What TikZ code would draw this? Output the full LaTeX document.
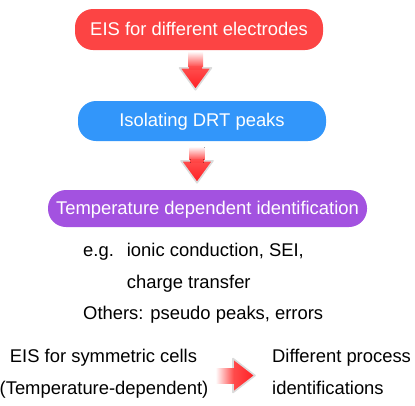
\documentclass[tikz,border=0pt]{standalone}
\usepackage{fontspec}
\setmainfont{Liberation Sans}
\usetikzlibrary{calc}
\definecolor{boxred}{RGB}{252,68,68}
\definecolor{boxblue}{RGB}{50,150,250}
\definecolor{boxpurple}{RGB}{163,82,224}
\definecolor{arrred}{RGB}{255,30,35}
\tikzset{
  stage/.style={rounded corners=18pt, minimum height=40pt, text=white,
    font=\fontsize{18.4}{18.4}\selectfont, text height=13pt, text depth=2pt, inner sep=0pt},
  plain/.style={font=\fontsize{18.4}{18.4}\selectfont, inner sep=0pt, anchor=base west},
  plainc/.style={font=\fontsize{18.4}{18.4}\selectfont, inner sep=0pt, anchor=base},
  headout/.style={draw=black!14, line width=1.6pt, line join=round},
}
\newcommand\downblock[2]{%
  \fill[top color=red!4, bottom color=red!75]
    let \p1=(#1), \p2=(#2) in ({\x1-7.5pt},\y1) rectangle ({\x1+7.5pt},{\y2+22pt});
  \filldraw[headout, top color=red!70, bottom color=arrred]
    let \p1=(#1), \p2=(#2) in ({\x1-16pt},{\y2+22pt}) -- ({\x1+16pt},{\y2+22pt}) -- (\x1,\y2) -- cycle;
  \fill[top color=red!70, bottom color=red!75]
    let \p1=(#1), \p2=(#2) in ({\x1-6.7pt},{\y2+23.5pt}) rectangle ({\x1+6.7pt},{\y2+20pt});
}
\newcommand\rightblock[2]{%
  \filldraw[headout, left color=red!70, right color=arrred]
    let \p1=(#1), \p2=(#2) in ({\x2-22pt},{\y1+17pt}) -- ({\x2-22pt},{\y1-17pt}) -- (\x2,\y1) -- cycle;
  \fill[left color=white, right color=red!72]
    let \p1=(#1), \p2=(#2) in (\x1,{\y1-7.5pt}) rectangle ({\x2-21pt},{\y1+7.5pt});
}
\begin{document}
\begin{tikzpicture}[x=1pt,y=-1pt]
\useasboundingbox (0,0) rectangle (415,405);
\node[stage, fill=boxred, minimum width=248pt, minimum height=41pt] (eis) at (199,29.5) {EIS for different electrodes};
\node[stage, fill=boxblue, minimum width=248pt] (drt) at (202,121) {Isolating DRT peaks};
\node[stage, fill=boxpurple, minimum width=319pt, minimum height=37pt] (temp) at (207.5,208.5) {Temperature dependent identification};

\coordinate (a1s) at ($(eis.south)+(-3.5,2)$);
\coordinate (a1t) at ($(drt.north)+(-6,-11)$);
\downblock{a1s}{a1t}
\coordinate (a2s) at ($(drt.south)+(-5,6)$);
\coordinate (a2t) at ($(temp.north)+(-10.5,-7)$);
\downblock{a2s}{a2t}

\node[plain] (eg) at (83,256) {e.g.};
\node[plain] (ionic) at (126.7,256) {ionic conduction, SEI,};
\node[plain] (ct) at (126.7,288) {charge transfer};
\node[plain] (others) at (83,319.3) {Others: pseudo peaks, errors};

\node[plainc] (sym1) at (103.5,362.7) {EIS for symmetric cells};
\node[plainc] (sym2) at (104,394.3) {(Temperature-dependent)};
\node[plain] (diff1) at (272,362.7) {Different process};
\node[plain] (diff2) at (272,394.3) {identifications};

\coordinate (a3s) at ($(sym2.east |- 0,375.5)+(7,0)$);
\coordinate (a3t) at ($(diff1.west |- 0,375.5)+(-17,0)$);
\rightblock{a3s}{a3t}
\end{tikzpicture}
\end{document}
